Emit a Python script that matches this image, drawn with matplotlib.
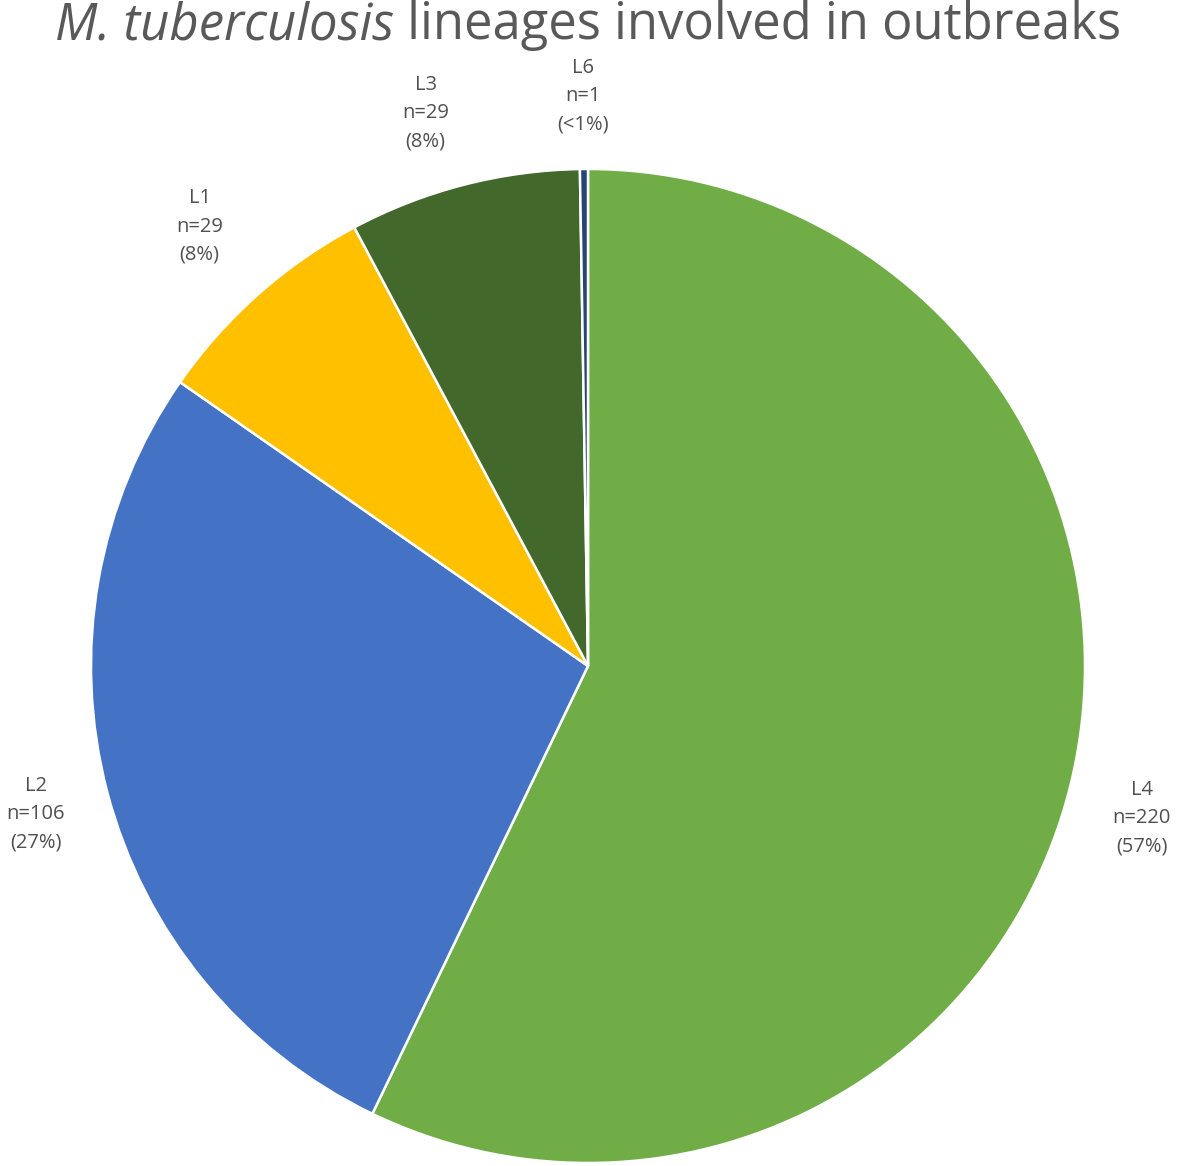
import numpy as np
import matplotlib.pyplot as plt

# lineage counts, clockwise from 12 o'clock
lineages = ['L4', 'L2', 'L1', 'L3', 'L6']
counts = [220, 106, 29, 29, 1]
pct_labels = ['57%', '27%', '8%', '8%', '<1%']
colors = ['#70AD47', '#4472C4', '#FFC000', '#43682B', '#264478']

title_italic = 'M. tuberculosis'
title_rest = ' lineages involved in outbreaks'

plt.rcParams['font.family'] = ['Open Sans', 'DejaVu Sans']

W, H = 1180, 1166
fig = plt.figure(figsize=(W / 100, H / 100), dpi=100)
ax = fig.add_axes([0, 0, 1, 1])

wedges, _ = ax.pie(counts, colors=colors, startangle=90, counterclock=False,
                   wedgeprops=dict(edgecolor='white', linewidth=1.8))

# pie centre at (588, 666) px, radius 497 px
r_px = 497
cx, cy = 588, H - 666
ax.set_xlim(-cx / r_px, (W - cx) / r_px)
ax.set_ylim(-cy / r_px, (H - cy) / r_px)
ax.set_aspect('auto')
ax.axis('off')

# small nudges (points) so labels sit where the original put them
nudges = [(-6, -17), (4, -1), (-4, 6), (-13, -4), (0, -5)]
for w, name, n, p, (ox, oy) in zip(wedges, lineages, counts, pct_labels, nudges):
    mid = np.deg2rad((w.theta1 + w.theta2) / 2)
    d = 1.16
    ax.annotate(f'{name}\nn={n}\n({p})', (d * np.cos(mid), d * np.sin(mid)),
                xytext=(ox, oy), textcoords='offset points',
                ha='center', va='center', fontsize=14.5, color='#505050',
                linespacing=1.55)

# title: italic species name followed by regular text, centred together
fs = 36.5
t1 = fig.text(0, 0, title_italic, fontsize=fs, style='italic', color='#595959')
t2 = fig.text(0, 0, title_rest, fontsize=fs, color='#595959')
fig.canvas.draw()
r = fig.canvas.get_renderer()
w1 = t1.get_window_extent(r).width
w2 = t2.get_window_extent(r).width
x0 = (588 - (w1 + w2) / 2) / W
yb = 1 - 39 / H
t1.set_position((x0, yb))
t1.set_va('baseline')
t2.set_position((x0 + w1 / W, yb))
t2.set_va('baseline')

fig.savefig('out.png', dpi=100, facecolor='white')
